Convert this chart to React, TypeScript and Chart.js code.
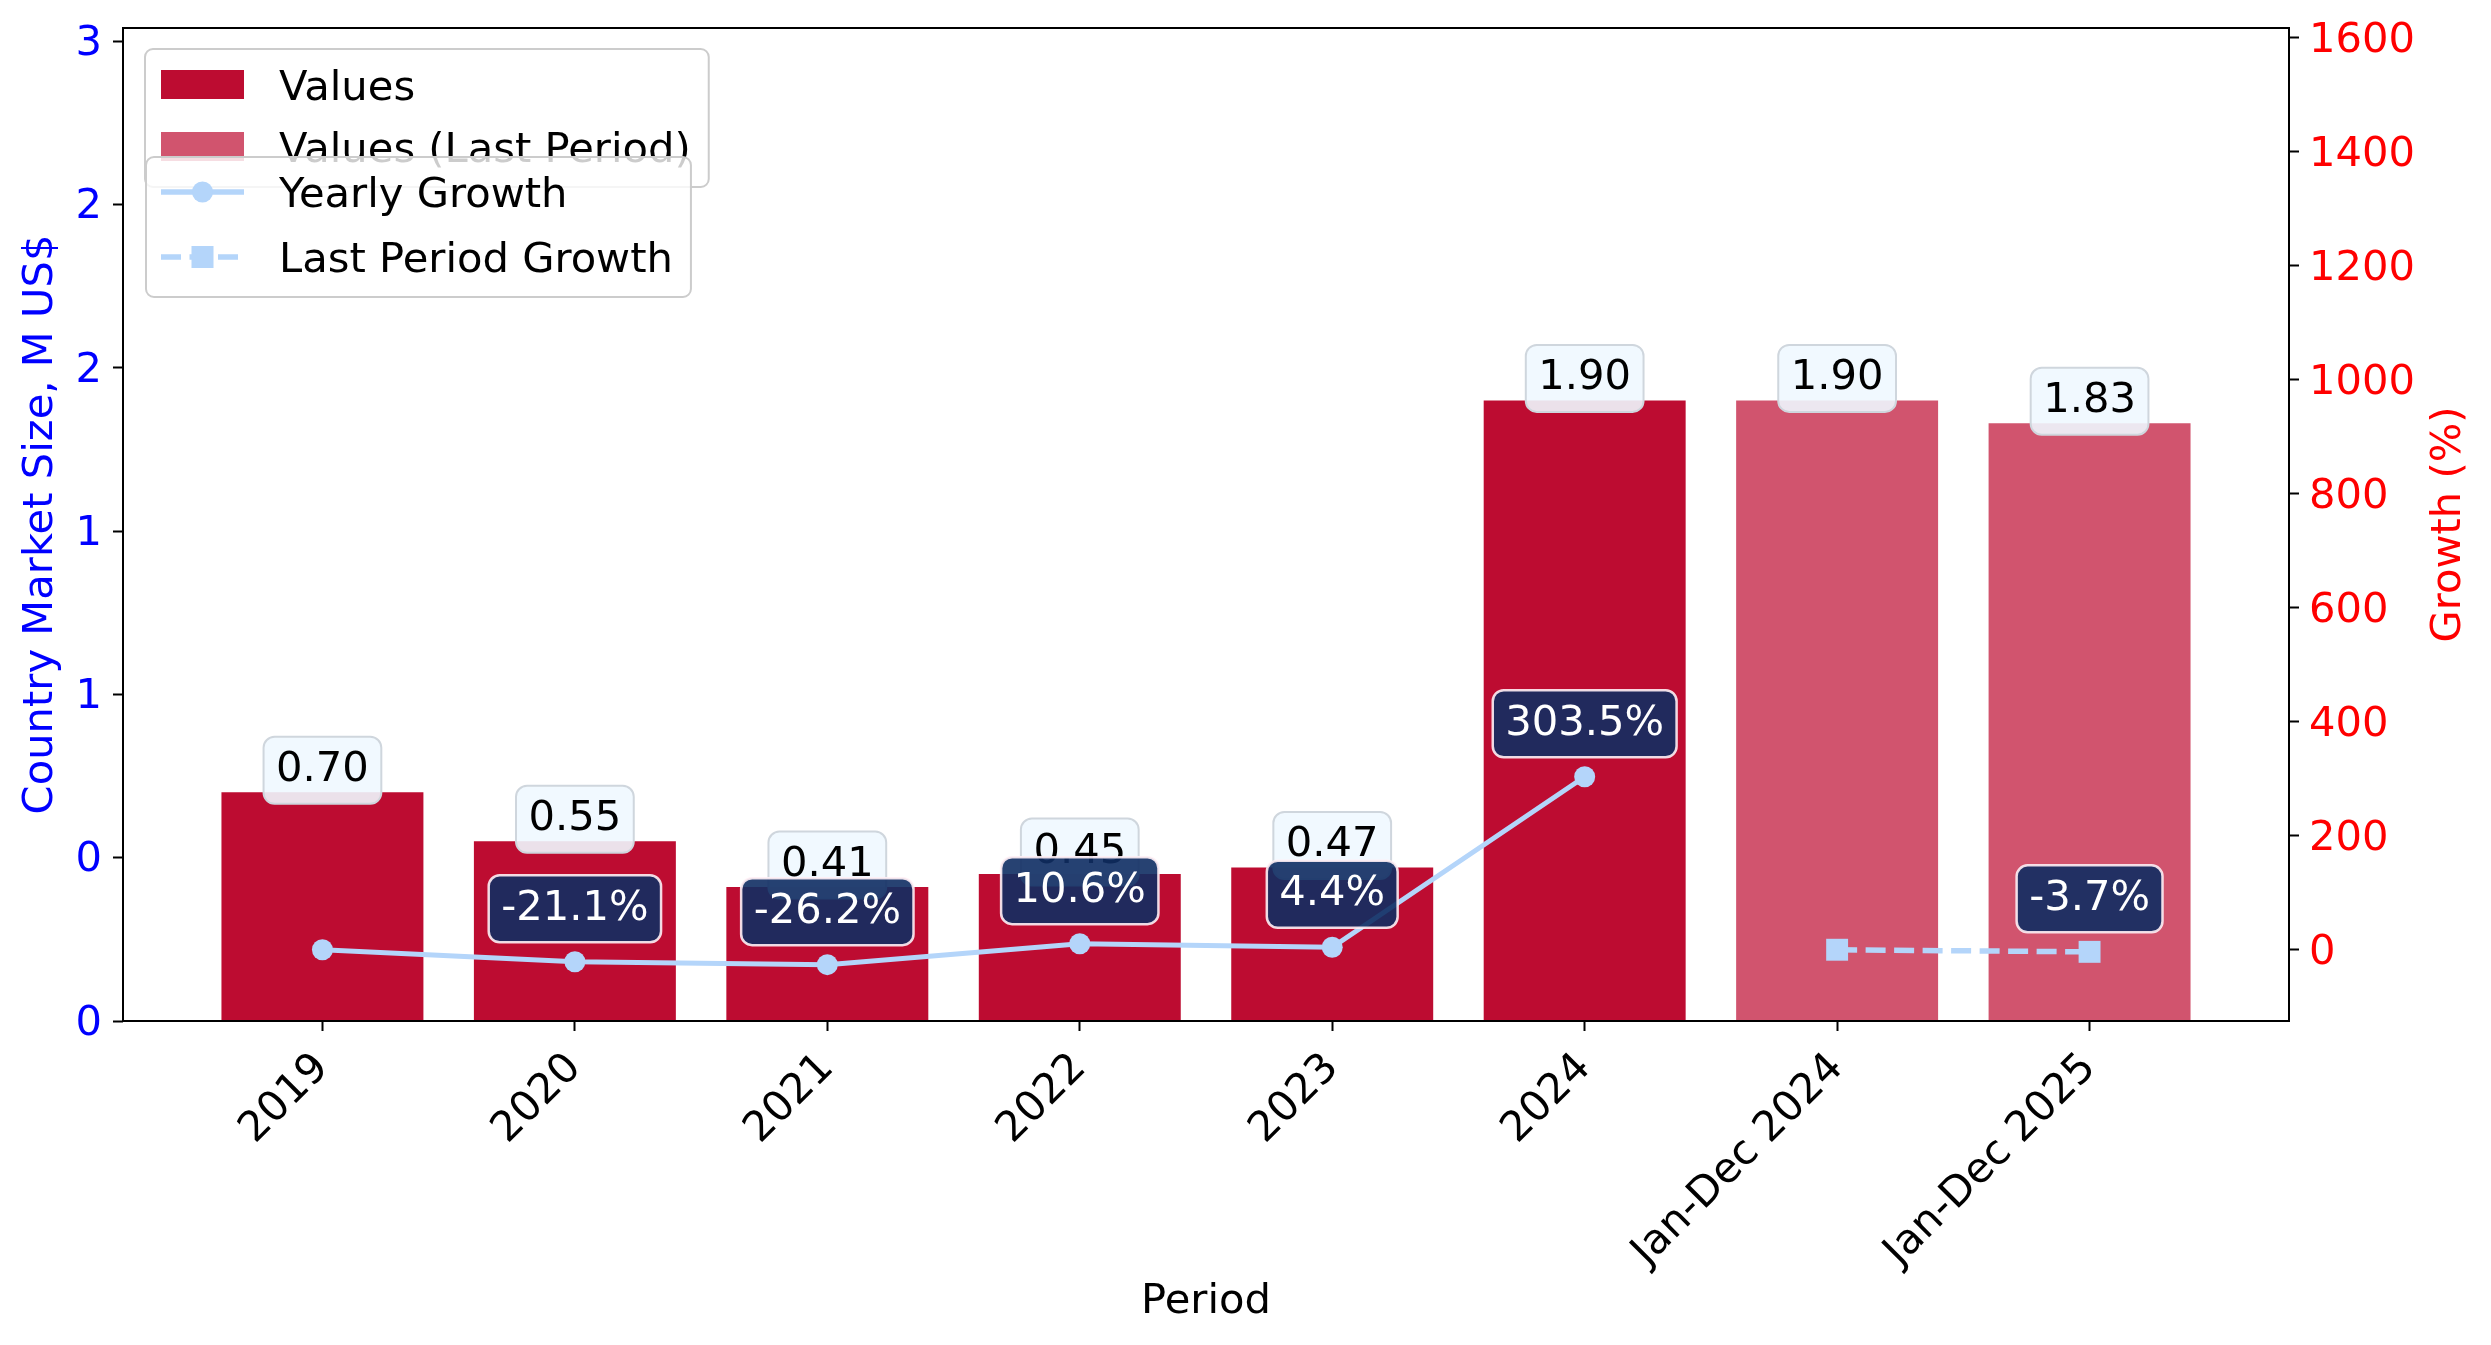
import React, { useEffect, useRef } from 'react';
import { Chart, registerables } from 'chart.js';

Chart.register(...registerables);

// ---------------- DATA ----------------
const categories = ['2019', '2020', '2021', '2022', '2023', '2024', 'Jan-Dec 2024', 'Jan-Dec 2025'];
const values = [0.70, 0.55, 0.41, 0.45, 0.47, 1.90]; // 2019 .. 2024
const lastPeriodValues = [1.90, 1.83]; // Jan-Dec 2024, Jan-Dec 2025
const yearlyGrowth = [0, -21.1, -26.2, 10.6, 4.4, 303.5]; // %
const lastPeriodGrowth = [0, -3.7]; // %
const leftTickValues = [0, 0.5, 1, 1.5, 2, 2.5, 3];
const leftTickLabels = ['0', '0', '1', '1', '2', '2', '3'];
const rightTickValues = [0, 200, 400, 600, 800, 1000, 1200, 1400, 1600];
const barLegendLabels = ['Values', 'Values (Last Period)'];
const lineLegendLabels = ['Yearly Growth', 'Last Period Growth'];

// ---------------- STYLE ----------------
const W = 2491;
const H = 1345;
const FONT = '"DejaVu Sans", "Liberation Sans", sans-serif';
const FS = 41.67;
const LEG_FS = 41.67;
const BAR_COLOR = '#bd0c31';
const BAR_LAST_COLOR = 'rgba(189,12,49,0.7)';
const LINE_COLOR = '#b4d5fa';
const NAVY = 'rgba(15,46,99,0.9)';

const lastStart = values.length;

function roundBox(ctx: CanvasRenderingContext2D, cx: number, cy: number, w: number, h: number, r: number, fill: string, stroke: string, lw: number) {
  ctx.beginPath();
  ctx.roundRect(cx - w / 2, cy - h / 2, w, h, r);
  ctx.fillStyle = fill;
  ctx.fill();
  ctx.lineWidth = lw;
  ctx.strokeStyle = stroke;
  ctx.stroke();
}

const overlayPlugin = {
  id: 'overlayPlugin',
  afterDatasetsDraw(chart: any) {
    const ctx: CanvasRenderingContext2D = chart.ctx;
    const { left, top, right, bottom } = chart.chartArea;
    ctx.save();
    // frame
    ctx.strokeStyle = '#000';
    ctx.lineWidth = 2;
    ctx.strokeRect(left, top, right - left, bottom - top);

    ctx.font = `${FS}px ${FONT}`;
    ctx.textAlign = 'center';
    ctx.textBaseline = 'middle';
    // value labels (bar datasets 2 and 3)
    [2, 3].forEach((di) => {
      const meta = chart.getDatasetMeta(di);
      const ds = chart.data.datasets[di];
      meta.data.forEach((el: any, j: number) => {
        const v = ds.data[j].y;
        const text = v.toFixed(2);
        const w = ctx.measureText(text).width + 25;
        const cx = el.x;
        const cy = el.y - 22;
        roundBox(ctx, cx, cy, w, 67, 11, 'rgba(240,248,255,0.9)', '#cfd6dd', 2);
        ctx.fillStyle = '#000';
        ctx.fillText(text, cx, cy);
      });
    });
    // growth labels (line datasets 0 and 1), skip the first point of each
    [0, 1].forEach((di) => {
      const meta = chart.getDatasetMeta(di);
      const ds = chart.data.datasets[di];
      meta.data.forEach((el: any, j: number) => {
        if (j === 0) return;
        const v = ds.data[j].y;
        const text = v.toFixed(1) + '%';
        const w = ctx.measureText(text).width + 25;
        const cx = el.x;
        const cy = el.y - 53;
        roundBox(ctx, cx, cy, w, 67, 11, NAVY, 'rgba(255,240,245,0.9)', 2.5);
        ctx.fillStyle = '#fff';
        ctx.fillText(text, cx, cy);
      });
    });
    ctx.restore();
  },
  afterDraw(chart: any) {
    const ctx: CanvasRenderingContext2D = chart.ctx;
    const { left, top, bottom } = chart.chartArea;
    ctx.save();
    // right axis title
    ctx.font = `${FS}px ${FONT}`;
    ctx.fillStyle = '#ff0000';
    ctx.textAlign = 'center';
    ctx.textBaseline = 'middle';
    ctx.translate(2449, (top + bottom) / 2);
    ctx.rotate(-Math.PI / 2);
    ctx.fillText('Growth (%)', 0, 0);
    ctx.restore();

    ctx.save();
    ctx.font = `${LEG_FS}px ${FONT}`;
    ctx.textAlign = 'left';
    ctx.textBaseline = 'alphabetic';
    const textX = left + 156;
    const hx0 = left + 38;
    const hx1 = left + 121;
    const hxc = (hx0 + hx1) / 2;

    // legend 1 (bars)
    const l1x = left + 22;
    const l1y = top + 21;
    const w1 = textX + Math.max(...barLegendLabels.map((t) => ctx.measureText(t).width)) + 18 - l1x;
    ctx.beginPath();
    ctx.roundRect(l1x, l1y, w1, 138, 8);
    ctx.fillStyle = 'rgba(255,255,255,0.8)';
    ctx.fill();
    ctx.strokeStyle = '#cccccc';
    ctx.lineWidth = 2;
    ctx.stroke();
    const b1 = [top + 72, top + 134];
    const barCols = [BAR_COLOR, BAR_LAST_COLOR];
    barLegendLabels.forEach((t, i) => {
      ctx.fillStyle = barCols[i];
      ctx.fillRect(hx0, b1[i] - 30, hx1 - hx0, 29);
      ctx.fillStyle = '#000';
      ctx.fillText(t, textX, b1[i]);
    });

    // legend 2 (lines)
    const l2x = left + 23;
    const l2y = top + 129;
    const w2 = textX + Math.max(...lineLegendLabels.map((t) => ctx.measureText(t).width)) + 18 - l2x;
    ctx.beginPath();
    ctx.roundRect(l2x, l2y, w2, 140, 8);
    ctx.fillStyle = 'rgba(255,255,255,0.8)';
    ctx.fill();
    ctx.strokeStyle = '#cccccc';
    ctx.lineWidth = 2;
    ctx.stroke();
    const b2 = [top + 179, top + 244];
    lineLegendLabels.forEach((t, i) => {
      const ly = b2[i] - 15;
      ctx.strokeStyle = LINE_COLOR;
      ctx.lineWidth = 5.5;
      ctx.setLineDash(i === 0 ? [] : [20, 8.5]);
      ctx.beginPath();
      ctx.moveTo(hx0, ly);
      ctx.lineTo(hx1, ly);
      ctx.stroke();
      ctx.setLineDash([]);
      ctx.fillStyle = LINE_COLOR;
      if (i === 0) {
        ctx.beginPath();
        ctx.arc(hxc, ly, 10.5, 0, Math.PI * 2);
        ctx.fill();
      } else {
        ctx.fillRect(hxc - 11, ly - 11, 22, 22);
      }
      ctx.fillStyle = '#000';
      ctx.fillText(t, textX, b2[i]);
    });
    ctx.restore();
  },
};

export default function App() {
  const ref = useRef<HTMLCanvasElement | null>(null);

  useEffect(() => {
    document.body.style.margin = '0';
    Chart.defaults.font.family = FONT;
    const canvas = ref.current as HTMLCanvasElement;

    const chart = new Chart(canvas, {
      type: 'bar',
      data: {
        datasets: [
          {
            type: 'line',
            label: lineLegendLabels[0],
            data: yearlyGrowth.map((v, i) => ({ x: i, y: v })),
            xAxisID: 'x',
            yAxisID: 'y1',
            borderColor: LINE_COLOR,
            backgroundColor: LINE_COLOR,
            borderWidth: 5,
            pointRadius: 10.5,
            pointStyle: 'circle',
            pointBackgroundColor: LINE_COLOR,
            pointBorderWidth: 0,
            tension: 0,
            order: 0,
          } as any,
          {
            type: 'line',
            label: lineLegendLabels[1],
            data: lastPeriodGrowth.map((v, i) => ({ x: lastStart + i, y: v })),
            xAxisID: 'x',
            yAxisID: 'y1',
            borderColor: LINE_COLOR,
            backgroundColor: LINE_COLOR,
            borderWidth: 5.5,
            borderDash: [20, 8.5],
            pointRadius: 15.5,
            pointStyle: 'rect',
            pointBackgroundColor: LINE_COLOR,
            pointBorderWidth: 0,
            tension: 0,
            order: 0,
          } as any,
          {
            type: 'bar',
            label: barLegendLabels[0],
            data: values.map((v, i) => ({ x: i, y: v })),
            xAxisID: 'x',
            yAxisID: 'y',
            backgroundColor: BAR_COLOR,
            borderWidth: 0,
            grouped: false,
            barPercentage: 0.8,
            categoryPercentage: 1,
            order: 1,
          } as any,
          {
            type: 'bar',
            label: barLegendLabels[1],
            data: lastPeriodValues.map((v, i) => ({ x: lastStart + i, y: v })),
            xAxisID: 'x',
            yAxisID: 'y',
            backgroundColor: BAR_LAST_COLOR,
            borderWidth: 0,
            grouped: false,
            barPercentage: 0.8,
            categoryPercentage: 1,
            order: 1,
          } as any,
        ],
      },
      options: {
        responsive: false,
        animation: false,
        devicePixelRatio: 1,
        events: [],
        layout: { padding: { top: 28, left: 0, right: 0, bottom: 0 } },
        plugins: {
          legend: { display: false },
          tooltip: { enabled: false },
        },
        scales: {
          x: {
            type: 'linear',
            position: 'bottom',
            min: -0.79,
            max: categories.length - 1 + 0.79,
            offset: false,
            afterBuildTicks: (s: any) => {
              s.ticks = categories.map((_, i) => ({ value: i }));
            },
            afterFit: (s: any) => {
              s.height = 324;
              s.paddingLeft = 0;
              s.paddingRight = 0;
            },
            ticks: {
              autoSkip: false,
              minRotation: 45,
              maxRotation: 45,
              padding: 13,
              color: '#000',
              font: { size: FS, family: FONT },
              callback: (v: any) => categories[Math.round(Number(v))] ?? '',
            },
            grid: {
              display: true,
              offset: false,
              drawOnChartArea: false,
              drawTicks: true,
              tickLength: 10,
              tickWidth: 2,
              tickColor: '#000',
            },
            border: { display: false },
            title: {
              display: true,
              text: 'Period',
              color: '#000',
              font: { size: FS, family: FONT },
              padding: { top: 0, bottom: 17.4 },
            },
          } as any,
          y: {
            type: 'linear',
            position: 'left',
            min: 0,
            max: 3.04,
            afterBuildTicks: (s: any) => {
              s.ticks = leftTickValues.map((v) => ({ value: v }));
            },
            afterFit: (s: any) => {
              s.width = 123;
              s.paddingTop = 0;
              s.paddingBottom = 0;
            },
            ticks: {
              autoSkip: false,
              padding: 11,
              labelOffset: 3,
              color: '#0000ff',
              font: { size: FS, family: FONT },
              callback: (_v: any, i: number) => leftTickLabels[i],
            },
            grid: {
              display: true,
              drawOnChartArea: false,
              drawTicks: true,
              tickLength: 10,
              tickWidth: 2,
              tickColor: '#000',
            },
            border: { display: false },
            title: {
              display: true,
              text: 'Country Market Size, M US$',
              color: '#0000ff',
              font: { size: FS, family: FONT },
              padding: { top: 16, bottom: 0 },
            },
          } as any,
          y1: {
            type: 'linear',
            position: 'right',
            min: -125,
            max: 1617,
            afterBuildTicks: (s: any) => {
              s.ticks = rightTickValues.map((v) => ({ value: v }));
            },
            afterFit: (s: any) => {
              s.width = W - 2289;
              s.paddingTop = 0;
              s.paddingBottom = 0;
            },
            ticks: {
              autoSkip: false,
              padding: 10,
              labelOffset: 3,
              color: '#ff0000',
              font: { size: FS, family: FONT },
              callback: (v: any) => String(v),
            },
            grid: {
              display: true,
              drawOnChartArea: false,
              drawTicks: true,
              tickLength: 10,
              tickWidth: 2,
              tickColor: '#000',
            },
            border: { display: false },
          } as any,
        },
      },
      plugins: [overlayPlugin],
    } as any);

    return () => chart.destroy();
  }, []);

  return (
    <div style={{ position: 'fixed', left: 0, top: 0, width: W, height: H, background: '#fff' }}>
      <canvas ref={ref} width={W} height={H} style={{ width: W, height: H, display: 'block' }} />
    </div>
  );
}
